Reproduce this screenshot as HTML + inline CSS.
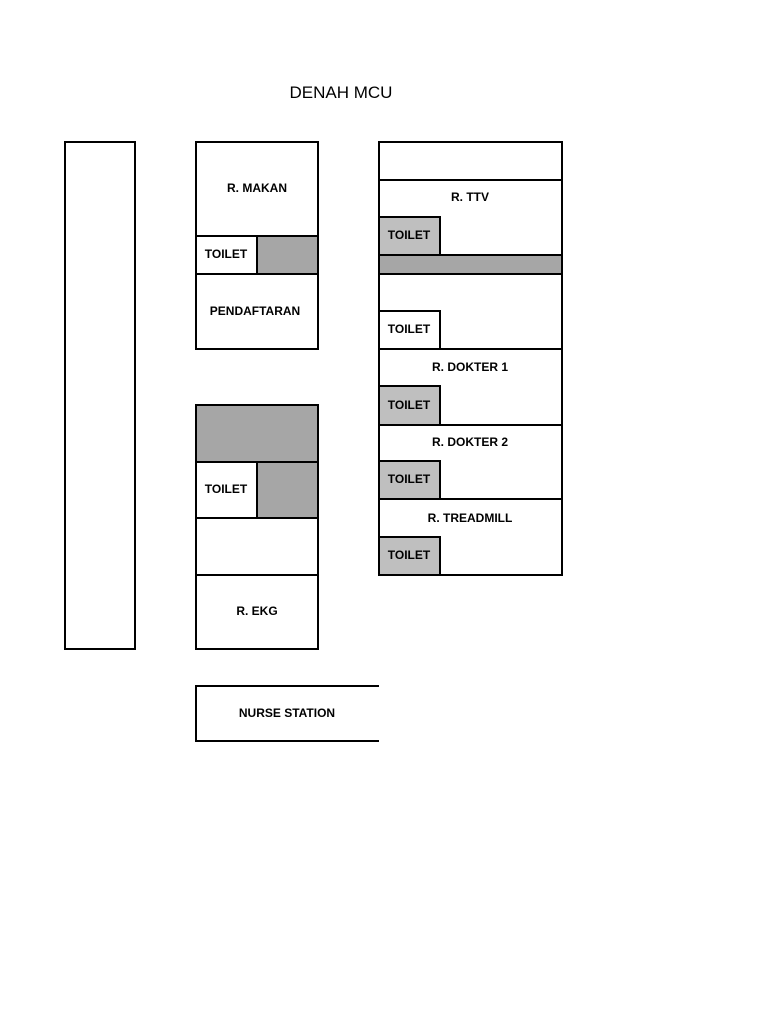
<!DOCTYPE html>
<html><head><style>body{margin:0;background:#fff}svg{display:block}</style></head><body>
<svg width="768" height="1024" xmlns="http://www.w3.org/2000/svg" font-family="Liberation Sans, sans-serif">
<rect width="768" height="1024" fill="#fff"/>
<text x="341" y="98" font-size="17" text-anchor="middle" fill="#000">DENAH MCU</text>
<g stroke="#000" stroke-width="2" fill="none">
<rect x="65" y="142" width="70" height="507"/>
<!-- middle top -->
<rect x="257" y="236" width="61" height="38" fill="#a6a6a6"/>
<rect x="196" y="142" width="122" height="207"/>
<line x1="196" y1="236" x2="318" y2="236"/><line x1="196" y1="274" x2="318" y2="274"/>
<line x1="257" y1="236" x2="257" y2="274"/>
<!-- middle bottom -->
<rect x="196" y="405" width="122" height="57" fill="#a6a6a6"/>
<rect x="257" y="462" width="61" height="56" fill="#a6a6a6"/>
<rect x="196" y="405" width="122" height="244"/>
<line x1="196" y1="462" x2="318" y2="462"/><line x1="196" y1="518" x2="318" y2="518"/><line x1="196" y1="575" x2="318" y2="575"/>
<line x1="257" y1="462" x2="257" y2="518"/>
<!-- nurse -->
<polyline points="379,686 196,686 196,741 379,741"/>
<!-- right -->
<rect x="379" y="255" width="183" height="19" fill="#a6a6a6"/>
<rect x="379" y="217" width="61" height="38" fill="#bfbfbf"/>
<rect x="379" y="311" width="61" height="38" fill="#fff"/>
<rect x="379" y="386" width="61" height="39" fill="#bfbfbf"/>
<rect x="379" y="461" width="61" height="38" fill="#bfbfbf"/>
<rect x="379" y="537" width="61" height="38" fill="#bfbfbf"/>
<rect x="379" y="142" width="183" height="433"/>
<line x1="379" y1="180" x2="562" y2="180"/>
<line x1="379" y1="349" x2="562" y2="349"/>
<line x1="379" y1="425" x2="562" y2="425"/>
<line x1="379" y1="499" x2="562" y2="499"/>
</g>
<g font-size="12" font-weight="bold" fill="#000" text-anchor="middle">
<text x="257" y="192">R. MAKAN</text>
<text x="226" y="258">TOILET</text>
<text x="255" y="315">PENDAFTARAN</text>
<text x="226" y="493">TOILET</text>
<text x="257" y="615">R. EKG</text>
<text x="287" y="717">NURSE STATION</text>
<text x="470" y="201">R. TTV</text>
<text x="409" y="239">TOILET</text>
<text x="409" y="333">TOILET</text>
<text x="470" y="371">R. DOKTER 1</text>
<text x="409" y="409">TOILET</text>
<text x="470" y="446">R. DOKTER 2</text>
<text x="409" y="483">TOILET</text>
<text x="470" y="522">R. TREADMILL</text>
<text x="409" y="559">TOILET</text>
</g>
</svg>
</body></html>
